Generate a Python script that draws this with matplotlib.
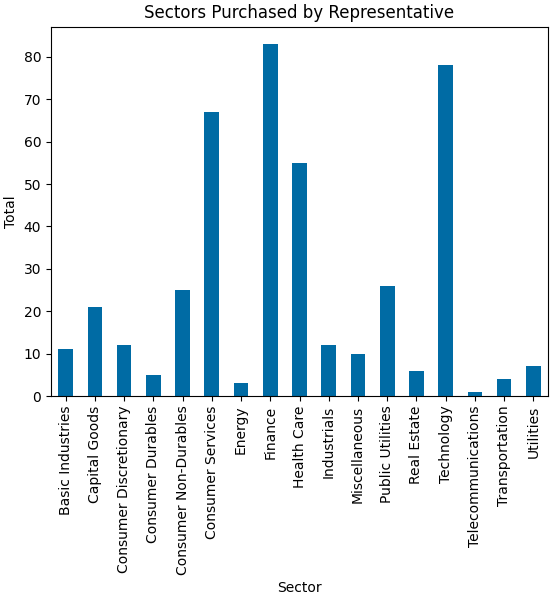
import matplotlib
matplotlib.use("Agg")
import matplotlib.pyplot as plt
import numpy as np

sectors = ["Basic Industries", "Capital Goods", "Consumer Discretionary", "Consumer Durables",
           "Consumer Non-Durables", "Consumer Services", "Energy", "Finance", "Health Care",
           "Industrials", "Miscellaneous", "Public Utilities", "Real Estate", "Technology",
           "Telecommunications", "Transportation", "Utilities"]
totals = [11, 21, 12, 5, 25, 67, 3, 83, 55, 12, 10, 26, 6, 78, 1, 4, 7]

fig = plt.figure(figsize=(5.53, 5.96), dpi=100)
ax = fig.add_axes([51/553, 1 - 396/596, (548-51)/553, (396-26.5)/596])
x = np.arange(len(sectors))
ax.bar(x, totals, width=0.5, color="#006BA4")
ax.set_xticks(x)
ax.set_xticklabels(sectors, rotation=90)
ax.set_xlim(-0.5, len(sectors) - 0.5)
ax.set_ylim(0, 87.15)
ax.set_xlabel("Sector")
ax.set_ylabel("Total")
ax.set_title("Sectors Purchased by Representative")
fig.savefig("out.png", dpi=100)
